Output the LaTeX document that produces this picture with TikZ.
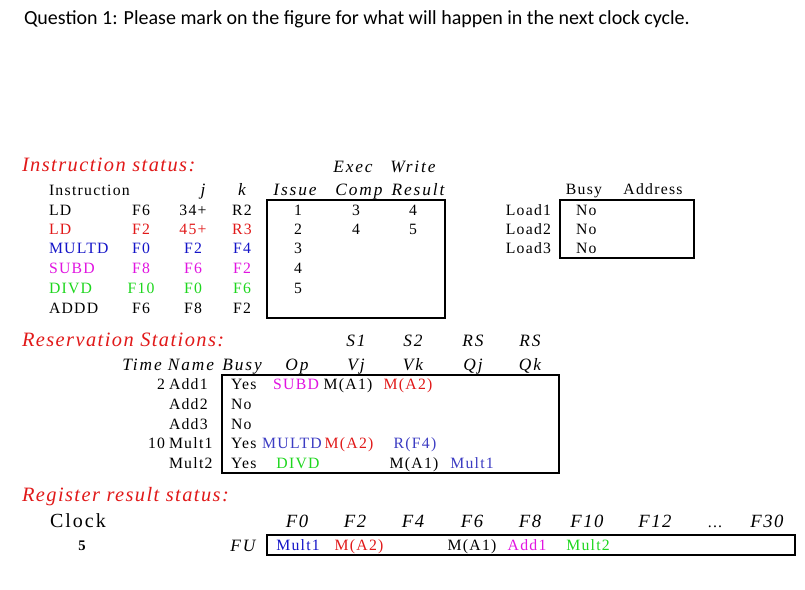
\documentclass[tikz,border=0pt]{standalone}
\usepackage{fontspec}
\setmainfont{Liberation Serif}
\newfontfamily\qfont{Carlito}
\newfontfamily\tblfont[LetterSpace=8]{Liberation Serif}
\newfontfamily\clkfont[LetterSpace=10]{Liberation Serif}
\newfontfamily\itfont[LetterSpace=11]{Liberation Serif Italic}
\newfontfamily\fhfont[LetterSpace=8]{Liberation Serif Italic}
\newfontfamily\ttlfont[LetterSpace=7]{Liberation Serif Italic}
\definecolor{myred}{RGB}{225,25,25}
\definecolor{myblue}{RGB}{20,20,200}
\definecolor{rsblue}{RGB}{60,60,195}
\definecolor{mymag}{RGB}{225,20,225}
\definecolor{mygreen}{RGB}{30,215,30}
\begin{document}
\begin{tikzpicture}[x=0.75pt,y=-0.75pt,
  every node/.style={inner sep=0pt,outer sep=0pt},
  tb/.style={font=\tblfont\fontsize{11.8}{13}\selectfont,yshift=-1.5pt},
  hd/.style={font=\itfont\fontsize{13}{15}\selectfont,yshift=-2.2pt},
  fh/.style={font=\fhfont\fontsize{14}{16}\selectfont,yshift=-2.6pt},
  ttl/.style={font=\ttlfont\fontsize{15.3}{17}\selectfont,text=myred,anchor=mid west,yshift=-2.6pt},
  tbox/.style={draw=black,line width=0.8pt}]
\useasboundingbox[fill=white] (0,0) rectangle (805,589);
% question
\node[font=\qfont\fontsize{15}{18}\selectfont,anchor=mid west] (q) at (24,21) {Question 1: Please mark on the figure for what will happen in the next clock cycle.};
% ---------- instruction status
\node[ttl] (ist) at (22,165) {Instruction status:};
\node[hd,anchor=mid] (hexec) at (353,167) {Exec};
\node[hd,anchor=mid] (hwrite) at (413,167) {Write};
\node[tb,anchor=mid west] (hinst) at (49,190) {Instruction};
\node[hd,anchor=mid] (hj) at (203,190) {j};
\node[hd,anchor=mid] (hk) at (242,190) {k};
\node[hd,anchor=mid] (hissue) at (295,190) {Issue};
\node[hd,anchor=mid] (hcomp) at (359,190) {Comp};
\node[hd,anchor=mid] (hres) at (418,190) {Result};
\draw[tbox] (267,200) rectangle (445,318);
\foreach \y/\op/\d/\j/\k/\c/\n in {210/LD/F6/34+/R2/black/1,229/LD/F2/45+/R3/myred/2,248/MULTD/F0/F2/F4/myblue/3,268/SUBD/F8/F6/F2/mymag/4,288/DIVD/F10/F0/F6/mygreen/5,308/ADDD/F6/F8/F2/black/6}{
  \node[tb,text=\c,anchor=mid west] (iop\n) at (49,\y) {\op};
  \node[tb,text=\c,anchor=mid] (id\n) at (141,\y) {\d};
  \node[tb,text=\c,anchor=mid] (ij\n) at (193,\y) {\j};
  \node[tb,text=\c,anchor=mid] (ik\n) at (242,\y) {\k};
}
\foreach \y/\a/\b/\c/\n in {210/1/3/4/1,229/2/4/5/2}{
  \node[tb,anchor=mid] (is\n) at (298,\y) {\a};
  \node[tb,anchor=mid] (ie\n) at (356,\y) {\b};
  \node[tb,anchor=mid] (iw\n) at (413,\y) {\c};
}
\node[tb,anchor=mid] (is3) at (298,248) {3};
\node[tb,anchor=mid] (is4) at (298,268) {4};
\node[tb,anchor=mid] (is5) at (298,288) {5};
% ---------- load buffers
\node[tb,anchor=mid] (hbusy) at (584,189) {Busy};
\node[tb,anchor=mid] (haddr) at (653,189) {Address};
\draw[tbox] (560,200) rectangle (694,258);
\foreach \y/\n in {210/1,229/2,248/3}{
  \node[tb,anchor=mid east] (ld\n) at (551,\y) {Load\n};
  \node[tb,anchor=mid west] (ldb\n) at (576,\y) {No};
}
% ---------- reservation stations
\node[ttl] (rst) at (22,340) {Reservation Stations:};
\node[hd,anchor=mid] (hs1) at (356,340) {S1};
\node[hd,anchor=mid] (hs2) at (413,340) {S2};
\node[hd,anchor=mid] (hrs1) at (473,340) {RS};
\node[hd,anchor=mid] (hrs2) at (530,340) {RS};
\node[hd,anchor=mid] (htime) at (142,364) {Time};
\node[hd,anchor=mid] (hname) at (191,364) {Name};
\node[hd,anchor=mid] (hbusy2) at (242,364) {Busy};
\node[hd,anchor=mid] (hop) at (297,364) {Op};
\node[hd,anchor=mid] (hvj) at (356,364) {Vj};
\node[hd,anchor=mid] (hvk) at (413,364) {Vk};
\node[hd,anchor=mid] (hqj) at (473,364) {Qj};
\node[hd,anchor=mid] (hqk) at (530,364) {Qk};
\draw[tbox] (222,375) rectangle (559,473);
\node[tb,anchor=mid east] (t1) at (165,384) {2};
\node[tb,anchor=mid east] (t4) at (165,443) {10};
\foreach \y/\nm/\b/\n in {384/Add1/Yes/1,404/Add2/No/2,424/Add3/No/3,443/Mult1/Yes/4,463/Mult2/Yes/5}{
  \node[tb,anchor=mid west] (rn\n) at (169,\y) {\nm};
  \node[tb,anchor=mid west] (rb\n) at (231,\y) {\b};
}
\node[tb,anchor=mid,text=mymag] (rop1) at (296,384) {SUBD};
\node[tb,anchor=mid] (rvj1) at (348,384) {M(A1)};
\node[tb,anchor=mid,text=myred] (rvk1) at (408,384) {M(A2)};
\node[tb,anchor=mid,text=rsblue] (rop4) at (292,443) {MULTD};
\node[tb,anchor=mid,text=myred] (rvj4) at (349,443) {M(A2)};
\node[tb,anchor=mid,text=rsblue] (rvk4) at (415,443) {R(F4)};
\node[tb,anchor=mid,text=mygreen] (rop5) at (298,463) {DIVD};
\node[tb,anchor=mid] (rvk5) at (414,463) {M(A1)};
\node[tb,anchor=mid,text=rsblue] (rqj5) at (472,463) {Mult1};
% ---------- register result status
\node[ttl] (rrs) at (22,495) {Register result status:};
\node[anchor=mid west,font=\clkfont\fontsize{15}{17}\selectfont,yshift=-2.6pt] (clk) at (50,521) {Clock};
\node[anchor=mid,font=\bfseries\fontsize{11}{13}\selectfont,yshift=-1.5pt] (clkv) at (82,545) {5};
\foreach \x/\f/\n in {297/F0/0,355/F2/2,413/F4/4,472/F6/6,530/F8/8,587/F10/10,655/F12/12,767/F30/30}{
  \node[fh,anchor=mid] (rf\n) at (\x,521) {\f};
}
\node[tb,anchor=mid,yshift=-1pt] (rdots) at (715,521) {...};
\node[hd,anchor=mid] (fu) at (243,545) {FU};
\draw[tbox] (267,535) rectangle (795,555);
\node[tb,anchor=mid,text=myblue] (fu0) at (298,545) {Mult1};
\node[tb,anchor=mid,text=myred] (fu2) at (359,545) {M(A2)};
\node[tb,anchor=mid] (fu6) at (472,545) {M(A1)};
\node[tb,anchor=mid,text=mymag] (fu8) at (527,545) {Add1};
\node[tb,anchor=mid,text=mygreen] (fu10) at (588,545) {Mult2};
\end{tikzpicture}
\end{document}
